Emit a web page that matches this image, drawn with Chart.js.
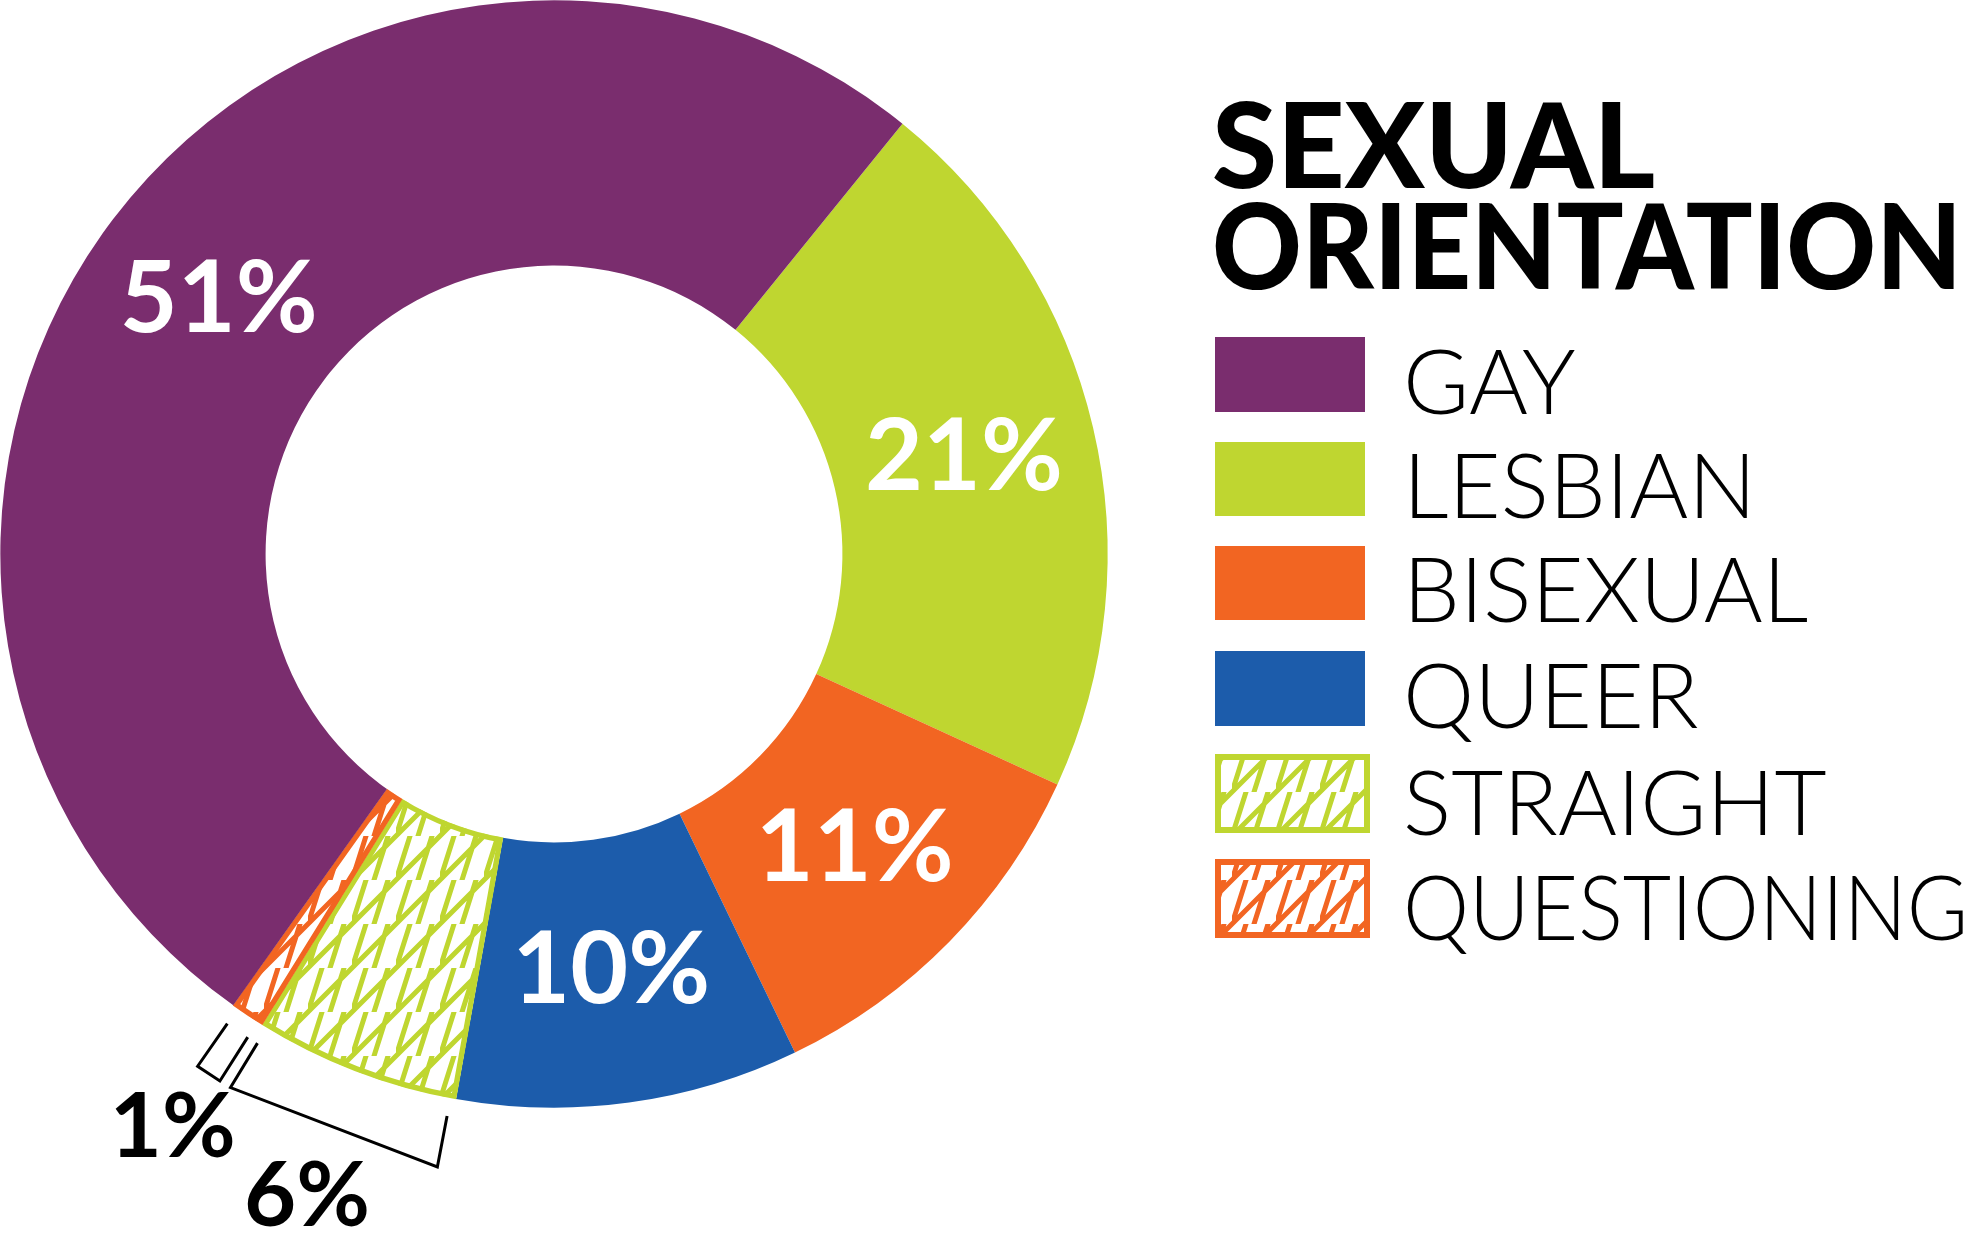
<!DOCTYPE html>
<html><head><meta charset="utf-8">
<script src="https://cdn.jsdelivr.net/npm/chart.js@4/dist/chart.umd.min.js"></script>
<style>html,body{margin:0;padding:0;background:#fff;overflow:hidden}#w{width:1969px;height:1239px;position:relative}canvas{display:block}</style>
</head><body><div id="w"><canvas id="c" width="1969" height="1239" style="width:1969px;height:1239px"></canvas></div>
<script>
const categories = ['LESBIAN','BISEXUAL','QUEER','STRAIGHT','QUESTIONING','GAY'];
const values = [21, 11, 10, 6, 1, 51];
const pctLabels = ['21%','11%','10%','6%','1%','51%'];
const legendOrder = ['GAY','LESBIAN','BISEXUAL','QUEER','STRAIGHT','QUESTIONING'];
const colors = {GAY:'#7a2d6e',LESBIAN:'#bfd630',BISEXUAL:'#f26522',QUEER:'#1c5cab',STRAIGHT:'#bfd630',QUESTIONING:'#f26522'};
const hatched = {STRAIGHT:true,QUESTIONING:true};
const title = ['SEXUAL','ORIENTATION'];

function hatch(col){
  const t=document.createElement('canvas');t.width=44;t.height=44;
  const g=t.getContext('2d');g.fillStyle='#fff';g.fillRect(0,0,44,44);
  g.strokeStyle=col;g.lineWidth=5;g.lineCap='square';
  g.beginPath();
  for(let k=-44;k<=88;k+=44){g.moveTo(k,44);g.lineTo(k+44,0);}
  g.moveTo(0,44);g.lineTo(14,0);g.moveTo(22,44);g.lineTo(36,0);
  g.stroke();
  return document.getElementById('c').getContext('2d').createPattern(t,'repeat');
}
const bg=categories.map(c=>hatched[c]?hatch(colors[c]):colors[c]);
const bc=categories.map(c=>colors[c]);
const bw=categories.map(c=>hatched[c]?5:0);

const deco={id:'deco',afterDraw(ch){
  const g=ch.ctx,meta=ch.getDatasetMeta(0);
  g.save();g.textAlign='center';g.textBaseline='middle';
  meta.data.forEach((a,i)=>{
    if(values[i]<8)return;
    const p=a.getCenterPoint();
    g.fillStyle='#fff';g.font='700 100px Lato';g.fillText(pctLabels[i],p.x,p.y);
  });
  meta.data.forEach((a,i)=>{
    if(values[i]>=8)return;
    const cx=a.x,cy=a.y,R=a.outerRadius;
    const r1=R+18,r2=R+70;
    const pt=(ang,r)=>[cx+r*Math.cos(ang),cy+r*Math.sin(ang)];
    const s=a.startAngle+0.01,e=a.endAngle-0.01;
    g.strokeStyle='#000';g.lineWidth=3;g.beginPath();
    let p=pt(s,r1);g.moveTo(p[0],p[1]);p=pt(s,r2);g.lineTo(p[0],p[1]);
    p=pt(e,r2);g.lineTo(p[0],p[1]);p=pt(e,r1);g.lineTo(p[0],p[1]);g.stroke();
    const m=(a.startAngle+a.endAngle)/2;p=pt(m,R+135);
    g.fillStyle='#000';g.font='700 90px Lato';g.fillText(pctLabels[i],p[0],p[1]);
  });
  g.textAlign='left';g.textBaseline='alphabetic';g.fillStyle='#000';
  g.font='900 118px Lato';
  g.fillText(title[0],1212,188,500);
  g.fillText(title[1],1212,289,750);
  const rows=[[337,412],[442,516],[546,620],[651,726],[754,833],[859,938]];
  legendOrder.forEach((n,k)=>{
    const [y0,y1]=rows[k];
    if(hatched[n]){g.fillStyle=hatch(colors[n]);g.fillRect(1215,y0,155,y1-y0);
      g.strokeStyle=colors[n];g.lineWidth=6;g.strokeRect(1218,y0+3,149,y1-y0-6);}
    else{g.fillStyle=colors[n];g.fillRect(1215,y0,150,y1-y0);}
    g.fillStyle='#000';g.font='300 90px Lato';
    g.fillText(n,1403,y1+2, n==='QUESTIONING'?565:800);
  });
  g.restore();
}};

new Chart(document.getElementById('c'),{
  type:'doughnut',
  data:{labels:categories,datasets:[{data:values,backgroundColor:bg,borderColor:bc,borderWidth:bw,borderAlign:'inner'}]},
  options:{responsive:false,devicePixelRatio:1,animation:false,rotation:39,cutout:'52%',
    layout:{padding:{left:0,top:0,right:861,bottom:131}},
    plugins:{legend:{display:false},tooltip:{enabled:false}}},
  plugins:[deco]
});
</script></body></html>
